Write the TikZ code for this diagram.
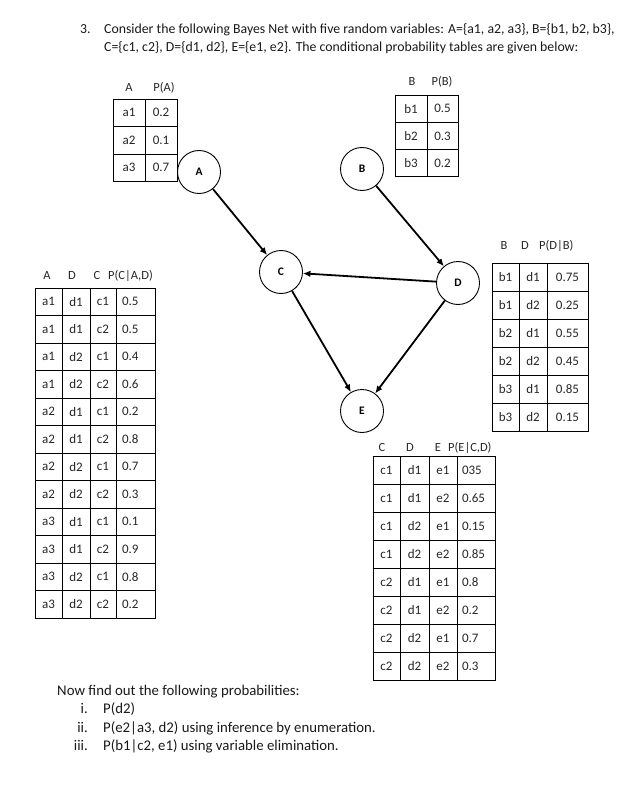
\documentclass[tikz,border=0pt]{standalone}
\usepackage{fontspec}
\setmainfont{Carlito}
\usetikzlibrary{arrows.meta}
\begin{document}
\begin{tikzpicture}[x=1pt,y=-1pt,
  txt/.style={font=\fontsize{13.8}{15}\selectfont, inner sep=0pt, text=black!90},
  qtxt/.style={font=\fontsize{14.8}{17}\selectfont, inner sep=0pt, text=black!90},
  cell/.style={draw=black, line width=0.8pt, inner sep=0pt, font=\fontsize{13}{14}\selectfont, text=black!85, anchor=center},
  hd/.style={font=\fontsize{12.5}{14}\selectfont, inner sep=0pt, anchor=base, text=black!85},
  bn/.style={circle, draw=black, line width=0.9pt, minimum size=43pt, inner sep=0pt, font=\fontsize{11.5}{12}\selectfont\bfseries},
  edge/.style={line width=1.8pt, -{Latex[length=7.5pt,width=6.5pt]}}]
\useasboundingbox (0,0) rectangle (641,802);
% title
\node[txt, anchor=base west] (num) at (80,34) {3.};
\node[txt, anchor=base west] (t1) at (104,34) {Consider the following Bayes Net with five random variables: A=\{a1, a2, a3\}, B=\{b1, b2, b3\},};
\node[txt, anchor=base west] (t2) at (104,52) {C=\{c1, c2\}, D=\{d1, d2\}, E=\{e1, e2\}. The conditional probability tables are given below:};

% Table A
\node[hd] (hA1) at (129,92) {A};
\node[hd] (hA2) at (164,92) {P(A)};
\foreach \p/\q [count=\r] in {a1/0.2,a2/0.1,a3/0.7}{
  \node[cell, minimum width=32pt, minimum height=27.5pt] (tA-\r-1) at (129,{99+27.5*(\r-0.5)}) {\p};
  \node[cell, minimum width=32pt, minimum height=27.5pt] (tA-\r-2) at (161,{99+27.5*(\r-0.5)}) {\q};
}

% Table B
\node[hd] (hB1) at (412,86) {B};
\node[hd] (hB2) at (442,86) {P(B)};
\foreach \p/\q [count=\r] in {b1/0.5,b2/0.3,b3/0.2}{
  \node[cell, minimum width=32pt, minimum height=27.3pt] (tB-\r-1) at (411,{95+27.3*(\r-0.5)}) {\p};
  \node[cell, minimum width=31pt, minimum height=27.3pt] (tB-\r-2) at (442.5,{95+27.3*(\r-0.5)}) {\q};
}

% Table C|A,D
\node[hd] (hC1) at (47,279) {A};
\node[hd] (hC2) at (72,279) {D};
\node[hd] (hC3) at (97,279) {C};
\node[hd, anchor=base west] (hC4) at (108,279) {P(C|A,D)};
\foreach \a/\d/\c/\p [count=\r] in {a1/d1/c1/0.5,a1/d1/c2/0.5,a1/d2/c1/0.4,a1/d2/c2/0.6,a2/d1/c1/0.2,a2/d1/c2/0.8,a2/d2/c1/0.7,a2/d2/c2/0.3,a3/d1/c1/0.1,a3/d1/c2/0.9,a3/d2/c1/0.8,a3/d2/c2/0.2}{
  \node[cell, minimum width=27pt, minimum height=27.5pt] (tC-\r-1) at (48.5,{288+27.5*(\r-0.5)}) {\a};
  \node[cell, minimum width=28pt, minimum height=27.5pt] (tC-\r-2) at (76,{288+27.5*(\r-0.5)}) {\d};
  \node[cell, minimum width=26pt, minimum height=27.5pt] (tC-\r-3) at (103,{288+27.5*(\r-0.5)}) {\c};
  \node[cell, minimum width=39pt, minimum height=27.5pt, text width=27pt, align=left] (tC-\r-4) at (135.5,{288+27.5*(\r-0.5)}) {\p};
}

% Table D|B
\node[hd] (hD1) at (504,249) {B};
\node[hd] (hD2) at (525,249) {D};
\node[hd, anchor=base west] (hD3) at (539,249) {P(D|B)};
\foreach \b/\d/\p [count=\r] in {b1/d1/0.75,b1/d2/0.25,b2/d1/0.55,b2/d2/0.45,b3/d1/0.85,b3/d2/0.15}{
  \node[cell, minimum width=27pt, minimum height=28pt] (tD-\r-1) at (505.5,{263+28*(\r-0.5)}) {\b};
  \node[cell, minimum width=28pt, minimum height=28pt] (tD-\r-2) at (533,{263+28*(\r-0.5)}) {\d};
  \node[cell, minimum width=41pt, minimum height=28pt] (tD-\r-3) at (567.5,{263+28*(\r-0.5)}) {\p};
}

% Table E|C,D
\node[hd] (hE1) at (382,451) {C};
\node[hd] (hE2) at (410,451) {D};
\node[hd] (hE3) at (438,451) {E};
\node[hd, anchor=base west] (hE4) at (448,451) {P(E|C,D)};
\foreach \c/\d/\e/\p [count=\r] in {c1/d1/e1/035,c1/d1/e2/0.65,c1/d2/e1/0.15,c1/d2/e2/0.85,c2/d1/e1/0.8,c2/d1/e2/0.2,c2/d2/e1/0.7,c2/d2/e2/0.3}{
  \node[cell, minimum width=27pt, minimum height=28pt] (tE-\r-1) at (386.5,{456+28*(\r-0.5)}) {\c};
  \node[cell, minimum width=29pt, minimum height=28pt] (tE-\r-2) at (414.5,{456+28*(\r-0.5)}) {\d};
  \node[cell, minimum width=28pt, minimum height=28pt] (tE-\r-3) at (443,{456+28*(\r-0.5)}) {\e};
  \node[cell, minimum width=38pt, minimum height=28pt, text width=28pt, align=left] (tE-\r-4) at (476,{456+28*(\r-0.5)}) {\p};
}

% Bayes net
\node[bn] (A) at (199,172) {A};
\node[bn] (B) at (362,169) {B};
\node[bn] (C) at (281,272) {C};
\node[bn] (D) at (458,283) {D};
\node[bn] (E) at (362,411) {E};
\draw[edge] (A) -- (C);
\draw[edge] (B) -- (D);
\draw[edge] (D) -- (C);
\draw[edge] (C) -- (E);
\draw[edge] (D) -- (E);

% questions
\node[qtxt, anchor=base west] (q0) at (57,695) {Now find out the following probabilities:};
\node[qtxt, anchor=base east] (n1) at (88,713) {i.};
\node[qtxt, anchor=base west] (q1) at (103,713) {P(d2)};
\node[qtxt, anchor=base east] (n2) at (88,732) {ii.};
\node[qtxt, anchor=base west] (q2) at (103,732) {P(e2|a3, d2) using inference by enumeration.};
\node[qtxt, anchor=base east] (n3) at (88,750) {iii.};
\node[qtxt, anchor=base west] (q3) at (103,750) {P(b1|c2, e1) using variable elimination.};
\end{tikzpicture}
\end{document}
